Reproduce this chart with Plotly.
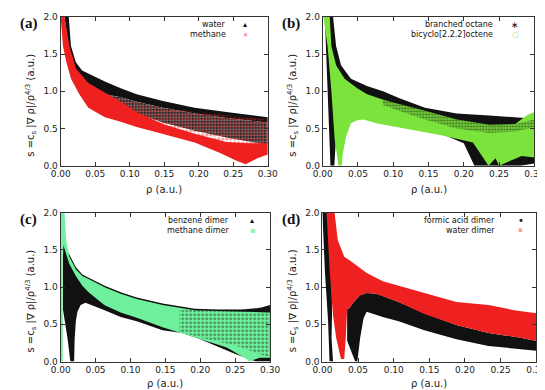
import plotly.graph_objects as go

W, H = 545, 390

# ---------------- data: envelopes (rho, s) ----------------
# (a) water (black) and methane (red)
water_top_rho = [0.0056, 0.0117, 0.0149, 0.022, 0.031, 0.040, 0.064, 0.087, 0.110, 0.148, 0.194, 0.240, 0.296, 0.300]
water_top_s = [2.0, 2.0, 1.61, 1.39, 1.28, 1.24, 1.13, 1.04, 0.96, 0.87, 0.78, 0.72, 0.65, 0.65]
water_dense_bot_rho = [0.0056, 0.012, 0.020, 0.040, 0.064, 0.087, 0.110, 0.148, 0.194, 0.240, 0.300]
water_dense_bot_s = [2.0, 1.55, 1.30, 1.10, 0.96, 0.92, 0.86, 0.78, 0.70, 0.64, 0.58]
water_speck_rho = [0.064, 0.087, 0.110, 0.148, 0.194, 0.240, 0.300]
water_speck_hi = [0.96, 0.92, 0.86, 0.78, 0.70, 0.64, 0.58]
water_speck_lo = [0.90, 0.80, 0.70, 0.58, 0.47, 0.38, 0.28]

methane_top_rho = [0.0, 0.0056, 0.0126, 0.022, 0.040, 0.064, 0.087, 0.110, 0.148, 0.194, 0.240, 0.270, 0.300]
methane_top_s = [2.0, 2.0, 1.61, 1.31, 1.11, 0.98, 0.86, 0.72, 0.56, 0.43, 0.32, 0.30, 0.30]
methane_bot_rho = [0.0, 0.0033, 0.008, 0.015, 0.027, 0.040, 0.064, 0.087, 0.110, 0.143, 0.194, 0.231, 0.254, 0.268, 0.285, 0.300]
methane_bot_s = [2.0, 1.61, 1.40, 1.17, 0.96, 0.78, 0.65, 0.59, 0.52, 0.44, 0.31, 0.17, 0.07, 0.02, 0.10, 0.15]
methane_speck_rho = [0.064, 0.087, 0.110, 0.148, 0.194, 0.240, 0.300]
methane_speck_hi = [0.98, 0.90, 0.85, 0.78, 0.72, 0.68, 0.62]
methane_speck_lo = [0.97, 0.85, 0.71, 0.55, 0.42, 0.31, 0.15]

# (b) branched octane (black) and bicyclo[2.2.2]octene (green)
octane_top_rho = [0.003, 0.0147, 0.019, 0.026, 0.040, 0.0626, 0.0855, 0.108, 0.145, 0.190, 0.236, 0.273, 0.300]
octane_top_s = [2.0, 2.0, 1.61, 1.35, 1.17, 1.07, 1.00, 0.91, 0.78, 0.70, 0.675, 0.65, 0.63]
octane_bot_rho = [0.003, 0.004, 0.0068, 0.0097, 0.011, 0.0165, 0.019, 0.030, 0.060, 0.100, 0.150, 0.200, 0.215, 0.280, 0.300]
octane_bot_s = [2.0, 1.6, 1.0, 0.35, 0.0, 0.0, 0.4, 0.7, 0.75, 0.65, 0.5, 0.3, 0.0, 0.0, 0.03]
octane_fringe_rho = [0.085, 0.108, 0.145, 0.190, 0.236, 0.273, 0.300]
octane_fringe_hi = [0.89, 0.83, 0.74, 0.62, 0.55, 0.56, 0.62]
octane_fringe_lo = [0.82, 0.74, 0.62, 0.50, 0.44, 0.46, 0.52]

bicyclo_top_rho = [0.001, 0.010, 0.0123, 0.019, 0.031, 0.049, 0.063, 0.085, 0.108, 0.145, 0.190, 0.236, 0.273, 0.290, 0.300]
bicyclo_top_s = [2.0, 2.0, 1.61, 1.35, 1.17, 1.04, 0.96, 0.89, 0.83, 0.74, 0.62, 0.55, 0.56, 0.68, 0.72]
bicyclo_bot_rho = [0.001, 0.007, 0.0123, 0.017, 0.0225, 0.027, 0.028, 0.033, 0.040, 0.049, 0.058, 0.076, 0.168, 0.213,
                   0.228, 0.235, 0.245, 0.250, 0.259, 0.282, 0.300]
bicyclo_bot_s = [2.0, 1.6, 1.0, 0.35, 0.0, 0.0, 0.13, 0.39, 0.57, 0.61, 0.62, 0.57, 0.41, 0.31,
                 0.10, 0.0, 0.10, 0.0, 0.04, 0.13, 0.11]

# (c) benzene dimer (black) and methane dimer (green)
benzene_top_rho = [0.004, 0.0124, 0.0217, 0.031, 0.040, 0.063, 0.086, 0.109, 0.146, 0.192, 0.224, 0.260, 0.285, 0.300]
benzene_top_s = [1.59, 1.43, 1.27, 1.17, 1.13, 1.02, 0.93, 0.86, 0.78, 0.71, 0.70, 0.70, 0.72, 0.76]
benzene_bot_rho = [0.004, 0.0033, 0.0033, 0.010, 0.0138, 0.0193, 0.020, 0.0217, 0.024, 0.0286, 0.0355, 0.040, 0.063,
                   0.086, 0.109, 0.146, 0.174, 0.200, 0.250, 0.280, 0.300]
benzene_bot_s = [1.59, 1.40, 0.70, 0.30, 0.0, 0.0, 0.30, 0.54, 0.67, 0.76, 0.79, 0.78, 0.69,
                 0.60, 0.54, 0.42, 0.385, 0.30, 0.10, 0.0, 0.0]
benzene_speck_rho = [0.170, 0.200, 0.250, 0.300]
benzene_speck_hi = [0.69, 0.70, 0.70, 0.74]
benzene_speck_lo = [0.40, 0.32, 0.22, 0.05]

mdimer_top_rho = [0.0, 0.0055, 0.0078, 0.0124, 0.0217, 0.031, 0.040, 0.063, 0.086, 0.109, 0.146, 0.192, 0.224, 0.260, 0.300]
mdimer_top_s = [2.0, 2.0, 1.63, 1.41, 1.24, 1.15, 1.11, 1.00, 0.91, 0.84, 0.76, 0.69, 0.68, 0.67, 0.66]
mdimer_bot_rho = [0.0, 0.003, 0.003, 0.004, 0.0124, 0.0217, 0.031, 0.040, 0.063, 0.086, 0.109, 0.146, 0.174, 0.192,
                  0.238, 0.266, 0.270, 0.285, 0.300]
mdimer_bot_s = [0.0, 0.0, 1.59, 1.59, 1.31, 1.15, 1.02, 0.93, 0.755, 0.66, 0.59, 0.46, 0.38, 0.32,
                0.19, 0.035, 0.0, 0.05, 0.05]

# (d) formic acid dimer (black) and water dimer (red)
formic_spike_left_rho = [0.0, 0.0036, 0.008, 0.010]
formic_spike_left_s = [2.0, 1.19, 0.54, 0.0]
formic_spike_right_rho = [0.007, 0.013, 0.0135, 0.0128, 0.0149]
formic_spike_right_s = [2.0, 1.20, 0.62, 0.32, 0.0]
formic_top_rho = [0.0347, 0.037, 0.044, 0.053, 0.062, 0.0757, 0.0847, 0.107, 0.143, 0.188, 0.233, 0.278, 0.300]
formic_top_s = [0.71, 0.71, 0.80, 0.89, 0.92, 0.91, 0.88, 0.80, 0.65, 0.49, 0.385, 0.32, 0.275]
formic_bot_rho = [0.0347, 0.046, 0.049, 0.053, 0.0577, 0.062, 0.0847, 0.107, 0.143, 0.188, 0.233, 0.300]
formic_bot_s = [0.28, 0.0, 0.0, 0.32, 0.58, 0.67, 0.60, 0.54, 0.42, 0.30, 0.21, 0.145]

wdimer_top_rho = [0.0058, 0.0171, 0.0216, 0.0306, 0.0396, 0.0622, 0.0847, 0.107, 0.143, 0.188, 0.233, 0.269, 0.300]
wdimer_top_s = [2.0, 2.0, 1.63, 1.41, 1.35, 1.19, 1.08, 1.02, 0.92, 0.80, 0.76, 0.69, 0.65]
wdimer_bot_rho = [0.0058, 0.0104, 0.0149, 0.0193, 0.026, 0.0306, 0.0328, 0.0342, 0.0347, 0.037, 0.044, 0.053, 0.062,
                  0.0757, 0.0847, 0.107, 0.143, 0.188, 0.233, 0.278, 0.300]
wdimer_bot_s = [2.0, 1.19, 0.62, 0.32, 0.035, 0.035, 0.32, 0.58, 0.71, 0.71, 0.80, 0.89, 0.92,
                0.91, 0.88, 0.80, 0.64, 0.49, 0.385, 0.32, 0.275]

x_ticks = [0.0, 0.05, 0.10, 0.15, 0.20, 0.25, 0.30]
x_tick_text = ["0.00", "0.05", "0.10", "0.15", "0.20", "0.25", "0.30"]
y_ticks = [0.0, 0.5, 1.0, 1.5, 2.0]
y_tick_text = ["0.0", "0.5", "1.0", "1.5", "2.0"]

panel_letters = ["(a)", "(b)", "(c)", "(d)"]
legend_names = [["water", "methane"], ["branched octane", "bicyclo[2.2.2]octene"],
                ["benzene dimer", "methane dimer"], ["formic acid dimer", "water dimer"]]

# ---------------- styling ----------------
BLACK = "#111111"
RED = "#ee2020"
LIME = "#7be33c"
MINT = "#6ef09c"
AXC = "#333333"
FONT = "DejaVu Sans"

# pixel boxes of the four plot areas: (left, right, top, bottom)
boxes = [(44.3, 259.3, 4.0, 156.7), (316.3, 536.0, 4.0, 156.7),
         (44.3, 261.7, 205.0, 357.7), (316.0, 538.0, 205.0, 357.7)]

fig = go.Figure()


def band(ax, top_x, top_y, bot_x, bot_y, color, pattern=None):
    xs = list(top_x) + list(reversed(bot_x))
    ys = list(top_y) + list(reversed(bot_y))
    xs.append(xs[0]); ys.append(ys[0])
    kw = dict(x=xs, y=ys, mode="lines", fill="toself", line=dict(width=0, color=color),
              hoverinfo="skip", showlegend=False, xaxis="x" + ax, yaxis="y" + ax)
    if pattern:
        kw["fillpattern"] = pattern
        kw["fillcolor"] = "rgba(0,0,0,0)"
    else:
        kw["fillcolor"] = color
    fig.add_trace(go.Scatter(**kw))


def dots(fg, bg="rgba(0,0,0,0)", size=4, solidity=0.35):
    return dict(shape=".", fgcolor=fg, bgcolor=bg, size=size, solidity=solidity, fillmode="overlay")


# (a)
band("", water_top_rho, water_top_s, water_dense_bot_rho, water_dense_bot_s, BLACK)
band("", water_speck_rho, water_speck_hi, water_speck_rho, water_speck_lo, BLACK,
     dots("#ffffff", BLACK, 3, 0.45))
band("", methane_top_rho, methane_top_s, methane_bot_rho, methane_bot_s, RED)
band("", methane_speck_rho, methane_speck_hi, methane_speck_rho, methane_speck_lo, RED,
     dots(RED, size=4, solidity=0.45))
# (b)
band("2", octane_top_rho, octane_top_s, octane_bot_rho, octane_bot_s, BLACK)
band("2", bicyclo_top_rho, bicyclo_top_s, bicyclo_bot_rho, bicyclo_bot_s, LIME)
band("2", octane_fringe_rho, octane_fringe_hi, octane_fringe_rho, octane_fringe_lo, BLACK,
     dots(BLACK, size=3, solidity=0.5))
# (c)
band("3", benzene_top_rho, benzene_top_s, benzene_bot_rho, benzene_bot_s, BLACK)
band("3", mdimer_top_rho, mdimer_top_s, mdimer_bot_rho, mdimer_bot_s, MINT)
band("3", benzene_speck_rho, benzene_speck_hi, benzene_speck_rho, benzene_speck_lo, BLACK,
     dots(BLACK, size=4, solidity=0.3))
# (d)
band("4", formic_spike_left_rho, formic_spike_left_s, formic_spike_right_rho, formic_spike_right_s, BLACK)
band("4", formic_top_rho, formic_top_s, formic_bot_rho, formic_bot_s, BLACK)
band("4", wdimer_top_rho, wdimer_top_s, wdimer_bot_rho, wdimer_bot_s, RED)

layout = dict(width=W, height=H, margin=dict(l=0, r=0, t=0, b=0),
              paper_bgcolor="white", plot_bgcolor="white", showlegend=False,
              font=dict(family=FONT, color="#222222", size=10))
annotations = []


def px(x):
    return x / W


def py(y):
    return 1 - y / H


for i, (l, r, t, b) in enumerate(boxes):
    suf = "" if i == 0 else str(i + 1)
    common = dict(showline=True, mirror="ticks", linecolor=AXC, linewidth=1, ticks="inside",
                  ticklen=4, tickcolor=AXC, tickwidth=1, showgrid=False, zeroline=False,
                  tickfont=dict(family=FONT, size=9, color="#222222"))
    layout["xaxis" + suf] = dict(common, domain=[px(l), px(r)], range=[0, 0.3],
                                 anchor="y" + suf, tickvals=x_ticks, ticktext=x_tick_text)
    layout["yaxis" + suf] = dict(common, domain=[py(b), py(t)], range=[0, 2],
                                 anchor="x" + suf, tickvals=y_ticks, ticktext=y_tick_text)
    cx = (l + r) / 2
    # x title
    annotations.append(dict(text="ρ (a.u.)", x=px(cx), y=py(b + 24.5 if i < 2 else b + 23.0),
                            xref="paper", yref="paper",
                            showarrow=False, xanchor="center", yanchor="middle",
                            font=dict(family=FONT, size=10, color="#222222")))
    # y title
    annotations.append(dict(text="s =c<sub>s</sub> |∇ ρ|/ρ<sup>4/3</sup> (a.u.)",
                            x=px(l - 31), y=py((t + b) / 2 + 14), xref="paper", yref="paper",
                            showarrow=False, textangle=-90, xanchor="center", yanchor="middle",
                            font=dict(family=FONT, size=10, color="#222222")))
    # panel letter
    annotations.append(dict(text="<b>" + panel_letters[i] + "</b>", x=px(l - 44), y=py(t - 4),
                            xref="paper", yref="paper", showarrow=False, xanchor="left", yanchor="top",
                            font=dict(family="Liberation Serif", size=15, color="#111111")))

# legends (text right-aligned, then a key glyph)
leg = [
    (218.5, 236, [("▴", BLACK, 8), ("✕", "#e6507a", 6)]),
    (495, 516, [("∗", BLACK, 9), ("○", "#88e060", 8)]),
    (221, 243, [("▴", BLACK, 8), ("▪", "#8ff0b0", 8)]),
    (497, 522, [("•", BLACK, 10), ("▪", "#f4a0a0", 7)]),
]
for i, (l, r, t, b) in enumerate(boxes):
    tx, kx, keys = leg[i]
    for j, name in enumerate(legend_names[i]):
        yy = t + 8.0 + 10.0 * j
        annotations.append(dict(text=name, x=px(tx), y=py(yy), xref="paper", yref="paper",
                                showarrow=False, xanchor="right", yanchor="middle",
                                font=dict(family=FONT, size=8, color="#111111")))
        g, c, s = keys[j]
        annotations.append(dict(text=g, x=px(kx), y=py(yy), xref="paper", yref="paper",
                                showarrow=False, xanchor="center", yanchor="middle",
                                font=dict(family=FONT, size=s, color=c)))

layout["annotations"] = annotations
fig.update_layout(**layout)
fig.write_html("out.html")
